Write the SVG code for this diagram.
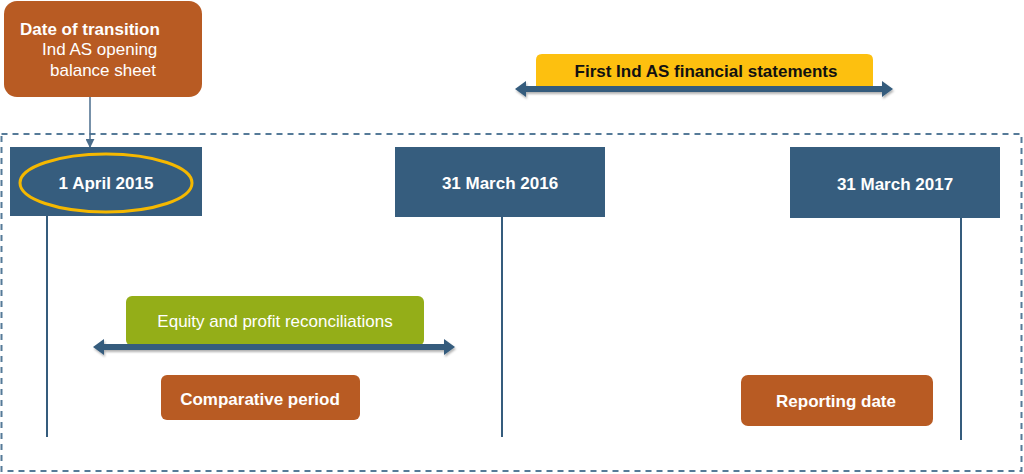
<svg xmlns="http://www.w3.org/2000/svg" width="1024" height="474" viewBox="0 0 1024 474">
<defs>
<style>
text{font-family:"Liberation Sans",Arial,sans-serif;font-size:17px;fill:#fff}
.b{font-weight:bold}
.blue{fill:#365d7e}
.orange{fill:#b85b23}
.vline{stroke:#355c7d;stroke-width:2;fill:none}
.shaft{fill:#355c7d}
</style>
<filter id="sh" x="-10%" y="-50%" width="120%" height="200%"><feDropShadow dx="1" dy="2" stdDeviation="1.2" flood-color="#000" flood-opacity="0.3"/></filter>
<marker id="ah" viewBox="0 0 10 10" refX="9" refY="5" markerWidth="6" markerHeight="6" orient="auto"><path d="M0,0 L10,5 L0,10 z" fill="#4a6d8c"/></marker>
</defs>
<rect x="1.5" y="134" width="1020" height="337" fill="none" stroke="#557a98" stroke-width="2" stroke-dasharray="6 5"/>
<g id="connectors">
<line x1="90" y1="97" x2="90" y2="147" stroke="#4a6d8c" stroke-width="1.5" marker-end="url(#ah)"/>
<line class="vline" x1="47" y1="216" x2="47" y2="437"/>
<line class="vline" x1="502" y1="217" x2="502" y2="437"/>
<line class="vline" x1="961" y1="218" x2="961" y2="440"/>
</g>
<g id="transition">
<rect class="orange" x="4" y="1" width="198" height="96" rx="13"/>
<text class="b" x="20" y="35">Date of transition</text>
<text x="42" y="55">Ind AS opening</text>
<text x="50" y="76">balance sheet</text>
</g>
<g id="d2015">
<rect class="blue" x="10" y="147" width="192" height="69"/>
<ellipse cx="106" cy="183" rx="86" ry="29" fill="none" stroke="#f5b800" stroke-width="3"/>
<text class="b" x="106" y="189" text-anchor="middle">1 April 2015</text>
</g>
<g id="d2016">
<rect class="blue" x="395" y="147" width="210" height="70"/>
<text class="b" x="500" y="189" text-anchor="middle">31 March 2016</text>
</g>
<g id="d2017">
<rect class="blue" x="790" y="147" width="210" height="71"/>
<text class="b" x="895" y="190" text-anchor="middle">31 March 2017</text>
</g>
<g id="first">
<path d="M536,86 V60 Q536,54 542,54 H867 Q873,54 873,60 V86 z" fill="#fdc00f"/>
<text class="b" x="706" y="77" text-anchor="middle" style="fill:#111">First Ind AS financial statements</text>
<path class="shaft" filter="url(#sh)" d="M515,89 L526,81 L526,86 L882,86 L882,81 L893,89 L882,97 L882,92 L526,92 L526,97 z"/>
</g>
<g id="equity">
<rect x="126" y="296" width="298" height="50" rx="6" fill="#94ae18"/>
<text x="275" y="327" text-anchor="middle">Equity and profit reconciliations</text>
<path class="shaft" filter="url(#sh)" d="M93,347 L104,339 L104,344 L444,344 L444,339 L455,347 L444,355 L444,350 L104,350 L104,355 z"/>
</g>
<g id="comparative">
<rect class="orange" x="161" y="375" width="199" height="45" rx="6"/>
<text class="b" x="260" y="405" text-anchor="middle">Comparative period</text>
</g>
<g id="reporting">
<rect class="orange" x="741" y="375" width="192" height="51" rx="7"/>
<text class="b" x="836" y="407" text-anchor="middle">Reporting date</text>
</g>
</svg>
